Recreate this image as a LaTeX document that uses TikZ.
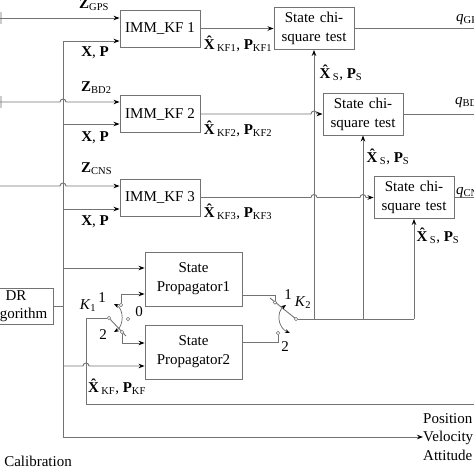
\documentclass[tikz,border=0pt]{standalone}
\usepackage{fontspec}
\setmainfont{Liberation Serif}
\usetikzlibrary{arrows.meta}

\begin{document}
\begin{tikzpicture}[x=1pt,y=-1pt]

% definitions
\tikzstyle{filter} = [rectangle, minimum width=80pt, minimum height=37pt, text centered, draw=black!55, line width=0.9pt, font=\fontsize{15}{19}\selectfont]

\tikzstyle{chitest} = [rectangle, minimum width=80pt, minimum height=42pt, text centered, draw=black!55, line width=0.9pt, text width=74pt, inner sep=1pt, font=\fontsize{15}{19}\selectfont]

\tikzstyle{propagator} = [rectangle, minimum width=97pt, minimum height=54pt, text centered, draw=black!55, line width=0.9pt, text width=93pt, inner sep=1pt, font=\fontsize{15}{19}\selectfont]

\tikzstyle{dralg} = [rectangle, minimum width=74pt, minimum height=36pt, text centered, draw=black!55, line width=0.9pt, text width=70pt, inner sep=1pt, font=\fontsize{15}{18}\selectfont]

\tikzstyle{tag} = [inner sep=0pt, font=\fontsize{15}{18.5}\selectfont]

\tikzstyle{contact} = [circle, draw=black!55, fill=white, inner sep=0pt, minimum size=3.6pt, line width=0.6pt]

\tikzstyle{wire} = [draw=black!55, line width=0.9pt]

\tikzstyle{arrow} = [-{Stealth[length=6pt,width=4.5pt,color=black]}]

\useasboundingbox (0,0) rectangle (474,474);

% the graph
\node (kf1) [filter] at (160,28.5) {IMM\_KF 1};
\node (kf2) [filter] at (160,114) {IMM\_KF 2};
\node (kf3) [filter] at (160,197.5) {IMM\_KF 3};

\node (ct1) [chitest] at (314,28.5) {State chi-\\square test};
\node (ct2) [chitest] at (363,114) {State chi-\\square test};
\node (ct3) [chitest] at (414,197.5) {State chi-\\square test};

\node (sp1) [propagator] at (193.5,279) {State\\Propagator1};
\node (sp2) [propagator] at (193.5,352) {State\\Propagator2};

\node (dr) [dralg] at (16,306) {DR\\Algorithm};

\node (pva) [tag, anchor=west, align=left] at (423,437) {Position\\Velocity\\Attitude};
\node (cal) [tag] at (38,461) {Calibration};

% free ends
\coordinate (gps) at (0,18);
\coordinate (bd2) at (0,102);
\coordinate (cns) at (0,186);
\coordinate (b1) at (63,41);
\coordinate (b2) at (63,124);
\coordinate (b3) at (63,209);
\coordinate (b4) at (63,268);
\coordinate (b5) at (63,366);
\coordinate (fb1) at (474,404);
\coordinate (fb2) at (86,404);
\coordinate (fb3) at (86,318);
\coordinate (i1) at (121,294);
\coordinate (i2) at (122,343);
\coordinate (o1) at (275,295);
\coordinate (o2) at (278,342);
\coordinate (qe) at (474,0);

% remains of cut sources
\draw [black!20, line width=2pt] (1,12) -- (1,24);
\draw [black!20, line width=2pt] (1,96) -- (1,108);

% measurements
\draw [wire, arrow] (gps) -- (gps -| kf1.west);
\draw [wire, arrow] (bd2) -- (60,102) arc[start angle=180, end angle=0, radius=3pt] -- (bd2 -| kf2.west);
\draw [wire, arrow] (cns) -- (60,186) arc[start angle=180, end angle=0, radius=3pt] -- (cns -| kf3.west);

% DR bus
\draw [wire] (dr.east) -- (dr.east -| b1);
\draw [wire, arrow] (b1) |- (pva.west);
\draw [wire, arrow] (b1) -- (b1 -| kf1.west);
\draw [wire, arrow] (b2) -- (b2 -| kf2.west);
\draw [wire, arrow] (b3) -- (b3 -| kf3.west);
\draw [wire, arrow] (b4) -- (b4 -| sp1.west);
\draw [wire, arrow] (b5) -- (83,366) arc[start angle=180, end angle=0, radius=3pt] -- (b5 -| sp2.west);

% filters to tests
\draw [wire, arrow] (kf1.east) -- (ct1.west);
\draw [wire, arrow] (kf2.east) -- (311,114) arc[start angle=180, end angle=0, radius=3pt] -- (ct2.west);
\draw [wire, arrow] (kf3.east) -- (311,197.5) arc[start angle=180, end angle=0, radius=3pt] -- (360,197.5) arc[start angle=180, end angle=0, radius=3pt] -- (ct3.west);

\draw [wire] (ct1.east) -- (ct1.east -| qe);
\draw [wire] (ct2.east) -- (ct2.east -| qe);
\draw [wire] (ct3.east) -- (ct3.east -| qe);

% switch K1
\draw [wire] (fb1) -- (fb2) -- (fb3) -- (107,318);
\node (pk1) [contact] at (109,318) {};
\draw [wire] (pk1) -- (126,336);
\node (c11) [contact] at (121,305) {};
\node (c10) [contact] at (128,319) {};
\node (c12) [contact] at (122,332) {};
\draw [wire, arrow] (c11) |- (sp1.west |- i1);
\draw [wire, arrow] (c12) |- (sp2.west |- i2);
\draw [black!60, line width=0.7pt, {Stealth[length=5pt,width=4pt,color=black]}-{Stealth[length=5pt,width=4pt,color=black]}] (114,304) .. controls (124,309) and (124,326) .. (114,332);

% switch K2
\draw [wire] (sp1.east |- o1) -- (o1) -- (275,302);
\draw [wire] (sp2.east |- o2) -- (o2) -- (278,335);
\draw [wire] (270,298) -- (296,319);
\node (c21) [contact] at (275,302.5) {};
\node (c22) [contact] at (278,333) {};
\node (pk2) [contact] at (296,319) {};
\draw [black!60, line width=0.7pt, {Stealth[length=5pt,width=4pt,color=black]}-{Stealth[length=5pt,width=4pt,color=black]}] (286,305) .. controls (276,312) and (278,328) .. (290,333);

% estimates to tests
\draw [wire] (pk2) -- (ct3.south |- pk2);
\draw [wire, arrow] (ct1.south |- pk2) -- (ct1.south);
\draw [wire, arrow] (ct2.south |- pk2) -- (ct2.south);
\draw [wire, arrow] (ct3.south |- pk2) -- (ct3.south);

% labels
\node (lgps) [tag, anchor=base west] at (79,8) {\textbf{Z}\textsubscript{GPS}};
\node (lbd2) [tag, anchor=base west] at (81,91) {\textbf{Z}\textsubscript{BD2}};
\node (lcns) [tag, anchor=base west] at (81,172) {\textbf{Z}\textsubscript{CNS}};
\node (lxp1) [tag] at (95,53) {\textbf{X}, \textbf{P}};
\node (lxp2) [tag] at (95,138) {\textbf{X}, \textbf{P}};
\node (lxp3) [tag] at (95,222) {\textbf{X}, \textbf{P}};
\node (lkf1) [tag] at (238,44) {\textbf{\^X}\textsubscript{KF1}, \textbf{P}\textsubscript{KF1}};
\node (lkf2) [tag] at (238,129) {\textbf{\^X}\textsubscript{KF2}, \textbf{P}\textsubscript{KF2}};
\node (lkf3) [tag] at (238,212) {\textbf{\^X}\textsubscript{KF3}, \textbf{P}\textsubscript{KF3}};
\node (ls1) [tag] at (341,73) {\textbf{\^X}\textsubscript{S}, \textbf{P}\textsubscript{S}};
\node (ls2) [tag] at (388,157) {\textbf{\^X}\textsubscript{S}, \textbf{P}\textsubscript{S}};
\node (ls3) [tag] at (438,236) {\textbf{\^X}\textsubscript{S}, \textbf{P}\textsubscript{S}};
\node (lkf) [tag] at (117,387) {\textbf{\^X}\textsubscript{KF}, \textbf{P}\textsubscript{KF}};
\node (lq1) [tag, anchor=base west] at (456,21) {\textit{q}\textsubscript{GPS}};
\node (lq2) [tag, anchor=base west] at (455,104) {\textit{q}\textsubscript{BD2}};
\node (lq3) [tag, anchor=base west] at (456,194) {\textit{q}\textsubscript{CNS}};
\node (lk1) [tag] at (88,306) {\textit{K}\textsubscript{1}};
\node (lk2) [tag] at (303,303) {\textit{K}\textsubscript{2}};
\node (n11) [tag] at (102,298) {1};
\node (n10) [tag] at (139,312) {0};
\node (n12) [tag] at (103,335) {2};
\node (n21) [tag] at (288,295) {1};
\node (n22) [tag] at (285,347) {2};

\end{tikzpicture}
\end{document}
